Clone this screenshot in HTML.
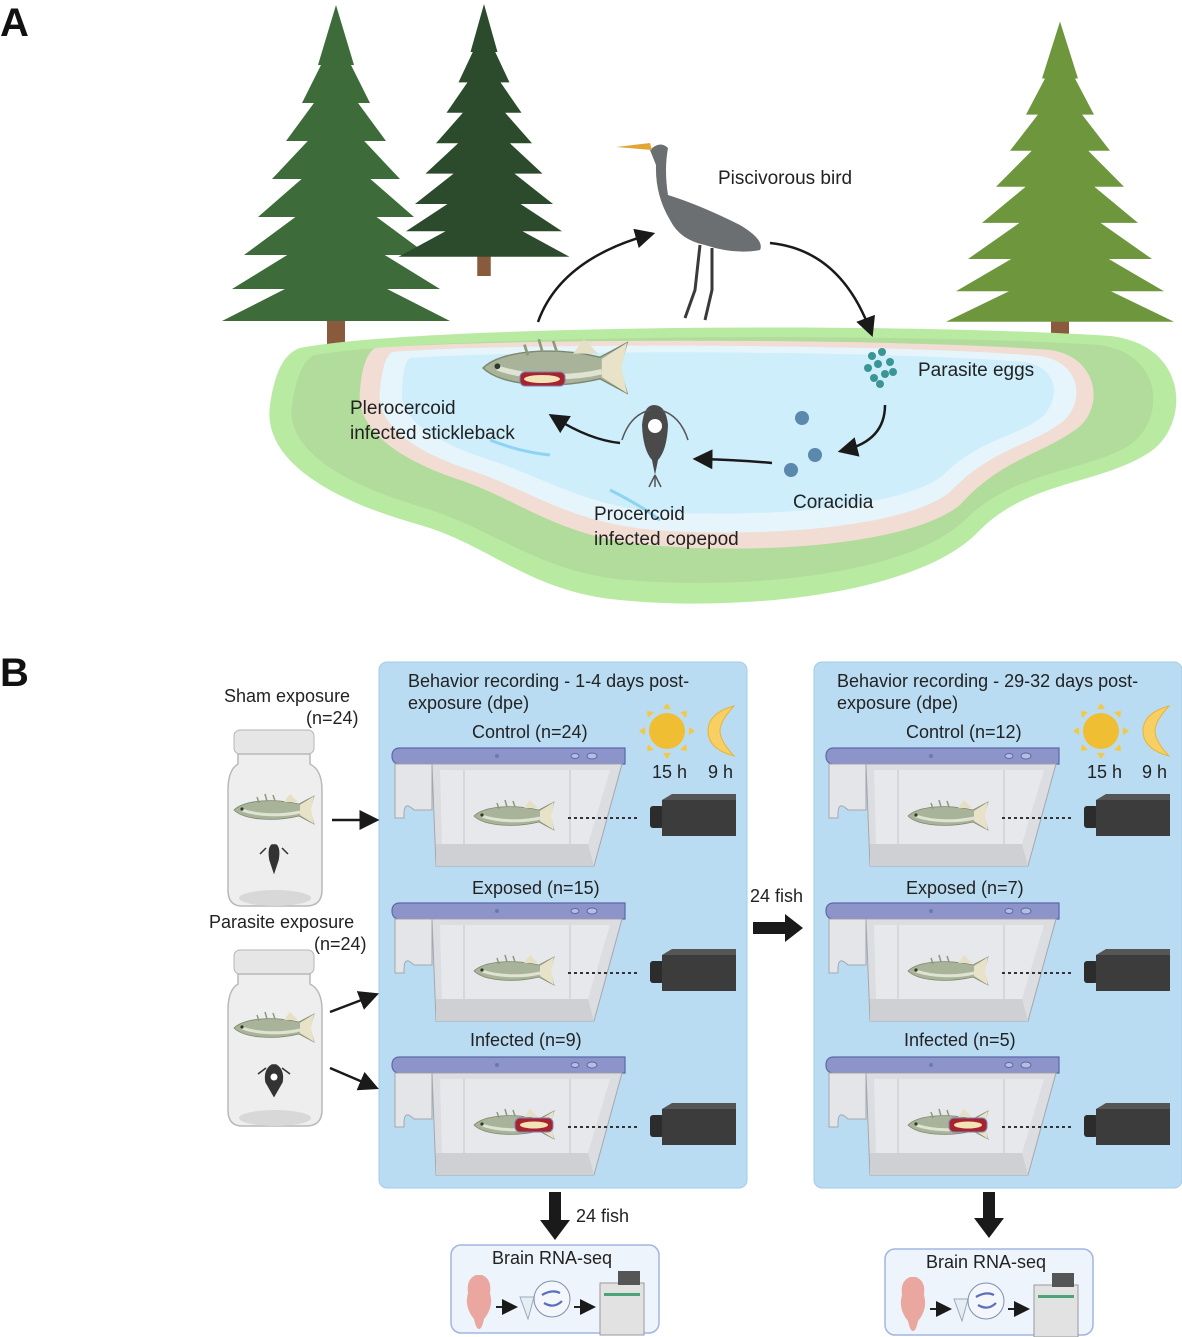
<!DOCTYPE html>
<html><head><meta charset="utf-8"><style>
html,body{margin:0;padding:0;background:#fff;}
svg{display:block;font-family:"Liberation Sans",Arial,sans-serif;}
</style></head><body>
<svg width="1182" height="1337" viewBox="0 0 1182 1337" xmlns="http://www.w3.org/2000/svg">
<defs>
<marker id="ah" markerWidth="8" markerHeight="8" refX="5" refY="4" orient="auto" markerUnits="strokeWidth"><path d="M0,0 L8,4 L0,8 z" fill="#1a1a1a"/></marker>
<g id="fish">
  <path d="M0,10 C10,0 40,-2 65,4 L80,-4 L76,10 L80,24 L65,16 C40,22 10,20 0,10 Z" fill="#a9b39a" stroke="#7d876d" stroke-width="0.8"/>
  <path d="M8,10 C25,16 50,16 66,12" fill="none" stroke="#dfe3d2" stroke-width="3"/>
  <path d="M25,3 l-2,-6 M33,1 l-2,-7 M41,1 l-2,-6" stroke="#8d9a7b" stroke-width="1.5"/>
  <path d="M50,2 l6,-8 l8,8 z" fill="#e5dfc6"/>
  <path d="M66,5 L80,-4 L77,10 L80,24 L66,15 z" fill="#e8e2c8"/>
  <circle cx="8" cy="9" r="1.6" fill="#2d3a24"/>
</g>
<g id="tree">
  <rect x="-9" y="-20" width="18" height="30" fill="#8a5a3c"/>
  <path d="M0,-330 L18,-270 L-18,-270Z M0,-300 L34,-232 L-34,-232Z M0,-262 L50,-194 L-50,-194Z M0,-224 L64,-156 L-64,-156Z M0,-186 L78,-118 L-78,-118Z M0,-148 L92,-80 L-92,-80Z M0,-110 L104,-46 L-104,-46Z M0,-72 L114,-14 L-114,-14Z"/>
</g>
<g id="tank">
  <path d="M8,0 L233,0 L233,16 L8,16 Q0,16 0,8 Q0,0 8,0 Z" fill="#8c94c9" stroke="#5d68a8" stroke-width="1.2"/>
  <path d="M3,16 L40,16 L40,62 L22,62 Q12,52 12,66 L12,70 L3,70 Z" fill="#e4e5e8" stroke="#a5a7ad" stroke-width="1"/>
  <path d="M40,16 L230,16 L202,118 L44,118 Z" fill="#dcdde1" stroke="#a5a7ad" stroke-width="1"/>
  <path d="M48,22 L218,22 L196,96 L50,96 Z" fill="#e7e8eb"/>
  <path d="M44,96 L196,96 L202,118 L44,118 Z" fill="#cfd0d4"/>
  <line x1="72" y1="22" x2="72" y2="96" stroke="#c5c6ca"/>
  <line x1="178" y1="22" x2="178" y2="96" stroke="#c5c6ca"/>
  <circle cx="105" cy="8" r="2" fill="#6d78b3"/><ellipse cx="183" cy="8" rx="4" ry="2.5" fill="#b7bde0" stroke="#5d68a8"/><ellipse cx="200" cy="8" rx="5" ry="3" fill="#b7bde0" stroke="#5d68a8"/>
  <use href="#fish" x="82" y="58"/>
  <line x1="176" y1="70" x2="248" y2="70" stroke="#333" stroke-width="2" stroke-dasharray="3,3"/>
  <rect x="258" y="58" width="14" height="22" rx="3" fill="#2c2c2c"/>
  <rect x="270" y="52" width="74" height="36" fill="#3c3c3c"/>
  <path d="M270,52 L280,46 L344,46 L344,52 Z" fill="#555"/>
</g>
<g id="jar">
  <rect x="6" y="0" width="80" height="24" rx="6" fill="#e6e6e6" stroke="#b5b5b5"/>
  <path d="M10,24 L82,24 L82,34 Q94,40 94,60 L94,160 Q94,176 78,176 L14,176 Q0,176 0,160 L0,60 Q0,40 10,34 Z" fill="#eeeeee" stroke="#b8b8b8" stroke-width="1.5"/>
  <ellipse cx="47" cy="168" rx="36" ry="8" fill="#d8d8d8"/>
</g>
<g id="sun">
  <circle cx="0" cy="0" r="18" fill="#f0be32"/>
  <g fill="#f5c842"><path d="M-4,-22 L0,-28 L4,-22Z"/><path d="M-4,22 L0,28 L4,22Z"/><path d="M-22,-4 L-28,0 L-22,4Z"/><path d="M22,-4 L28,0 L22,4Z"/><path d="M13,-19 L20,-20 L19,-13Z"/><path d="M-13,-19 L-20,-20 L-19,-13Z"/><path d="M13,19 L20,20 L19,13Z"/><path d="M-13,19 L-20,20 L-19,13Z"/></g>
</g>
<g id="moon"><path d="M12,-25 Q-14,-18 -14,0 Q-14,18 12,25 Q-2,10 -2,0 Q-2,-10 12,-25 Z" fill="#f7cf62" stroke="#e6b53a"/></g>
<g id="rna">
  <path d="M22,18 Q12,22 14,36 Q10,50 20,62 Q22,72 25,72 Q28,72 30,62 Q40,50 36,36 Q38,22 28,18 Z" fill="#eaa7a0"/>
  <line x1="42" y1="50" x2="58" y2="50" stroke="#222" stroke-width="2" marker-end="url(#ah)"/>
  <path d="M66,40 L80,40 L74,62 Z" fill="#e6eef4" stroke="#9ab"/>
  <circle cx="98" cy="42" r="18" fill="#f3f6fb" stroke="#7f8fb0"/>
  <path d="M88,38 Q98,32 106,36 M90,46 Q100,52 108,44" stroke="#5b6fbd" stroke-width="2.2" fill="none"/>
  <line x1="120" y1="50" x2="136" y2="50" stroke="#222" stroke-width="2" marker-end="url(#ah)"/>
  <rect x="146" y="26" width="44" height="52" fill="#e2e2e2" stroke="#999"/>
  <rect x="150" y="36" width="36" height="3" fill="#4ca37a"/>
  <rect x="164" y="14" width="22" height="14" fill="#555"/>
</g>
</defs>

<text x="0" y="36" font-size="40" font-weight="bold" fill="#111">A</text>
<text x="0" y="686" font-size="40" font-weight="bold" fill="#111">B</text>

<!-- trees -->
<use href="#tree" x="336" y="335" fill="#3e6b3a"/>
<use href="#tree" transform="translate(484,268) scale(0.75,0.8)" fill="#2c4a2c"/>
<use href="#tree" transform="translate(1060,335) scale(1,0.95)" fill="#6d963d"/>

<!-- pond -->
<path d="M300,348 C420,325 900,322 1110,336 C1190,345 1190,425 1150,452 C1100,485 1030,480 980,530 C920,595 740,612 620,600 C530,592 490,545 420,525 C330,500 262,460 270,405 C275,370 285,353 300,348 Z" fill="#b9eaa2"/>
<path d="M315,355 C430,335 900,332 1100,345 C1165,355 1165,420 1130,445 C1085,472 1020,470 970,515 C915,575 750,590 625,580 C540,572 495,530 425,508 C345,485 285,450 292,405 C296,375 305,358 315,355 Z" fill="#b1dc9b"/>
<path d="M375,348 C500,338 900,338 1050,350 C1100,357 1105,410 1075,430 C1040,455 1000,460 960,505 C910,545 760,555 650,545 C560,538 520,500 460,480 C400,460 355,430 360,390 C362,365 368,352 375,348 Z" fill="#f1ddd4"/>
<path d="M392,352 C500,343 890,343 1040,356 C1085,363 1085,408 1058,425 C1028,446 990,450 950,492 C905,528 760,538 655,530 C570,523 530,490 470,470 C415,452 375,425 380,390 C382,368 386,356 392,352 Z" fill="#e5f5fb"/>
<path d="M410,358 C520,350 880,350 1025,362 C1062,368 1060,405 1038,420 C1012,438 978,440 942,476 C900,508 765,518 660,512 C585,506 545,478 490,460 C435,442 400,420 402,392 C403,372 405,362 410,358 Z" fill="#cdeefa"/>
<path d="M490,440 Q520,452 550,455 M610,490 Q640,505 660,520" stroke="#8fd3f2" stroke-width="3" fill="none"/>

<!-- bird -->
<g fill="#6b6f72">
<path d="M650,150 Q660,140 668,148 Q664,170 668,195 Q700,205 740,225 Q765,240 760,250 Q735,255 705,245 Q680,240 670,220 Q655,195 656,165 Z"/>
<path d="M616,147 L650,143 L652,150 Z" fill="#e3a634"/>
<path d="M700,245 L695,290 L685,318 M712,248 L712,290 L705,320" stroke="#3a3a3a" stroke-width="3" fill="none"/>
</g>
<text x="718" y="184" font-size="19" fill="#222">Piscivorous bird</text>
<path d="M538,322 Q560,260 648,235" stroke="#1a1a1a" stroke-width="2.5" fill="none" marker-end="url(#ah)"/>
<path d="M770,243 Q840,250 870,330" stroke="#1a1a1a" stroke-width="2.5" fill="none" marker-end="url(#ah)"/>

<!-- pond contents -->
<use href="#fish" transform="translate(483,350) scale(1.8)"/>
<rect x="520" y="372" width="45" height="14" rx="5" fill="#a8242c" stroke="#7d82b8"/>
<ellipse cx="542" cy="379" rx="18" ry="4" fill="#f3e3b8"/>
<g fill="#3a9595">
<circle cx="872" cy="356" r="4"/><circle cx="882" cy="352" r="4"/><circle cx="878" cy="364" r="4"/><circle cx="868" cy="368" r="4"/><circle cx="890" cy="362" r="4"/><circle cx="885" cy="374" r="4"/><circle cx="874" cy="378" r="4"/><circle cx="893" cy="372" r="4"/><circle cx="880" cy="384" r="4"/>
</g>
<text x="918" y="376" font-size="19" fill="#222">Parasite eggs</text>
<path d="M885,405 Q885,440 845,450" stroke="#1a1a1a" stroke-width="2.5" fill="none" marker-end="url(#ah)"/>
<g fill="#5b88ad"><circle cx="802" cy="418" r="7"/><circle cx="815" cy="455" r="7"/><circle cx="791" cy="470" r="7"/></g>
<text x="793" y="508" font-size="19" fill="#222">Coracidia</text>
<path d="M772,463 Q740,460 700,459" stroke="#1a1a1a" stroke-width="2.5" fill="none" marker-end="url(#ah)"/>
<g>
<path d="M654,405 Q644,405 642,425 Q643,450 652,460 L655,475 L658,460 Q667,450 668,425 Q666,405 654,405 Z" fill="#4a4a4a"/>
<circle cx="655" cy="426" r="7" fill="#fff"/>
<path d="M650,410 Q630,415 622,440 M660,410 Q680,415 688,440 M655,475 l-6,12 M655,475 l6,12 M655,475 l0,12" stroke="#555" stroke-width="1.5" fill="none"/>
</g>
<path d="M620,443 Q590,440 555,418" stroke="#1a1a1a" stroke-width="2.5" fill="none" marker-end="url(#ah)"/>
<text x="350" y="414" font-size="19" fill="#222">Plerocercoid</text>
<text x="350" y="439" font-size="19" fill="#222">infected stickleback</text>
<text x="594" y="520" font-size="19" fill="#222">Procercoid</text>
<text x="594" y="545" font-size="19" fill="#222">infected copepod</text>

<!-- B panels -->
<rect x="379" y="662" width="368" height="526" rx="8" fill="#badcf2" stroke="#a3cbe8"/>
<rect x="814" y="662" width="368" height="526" rx="8" fill="#badcf2" stroke="#a3cbe8"/>
<rect x="451" y="1245" width="208" height="88" rx="10" fill="#eef4fb" stroke="#9fb6e0" stroke-width="1.5"/>
<use href="#rna" x="454" y="1257"/>
<rect x="885" y="1249" width="208" height="86" rx="10" fill="#eef4fb" stroke="#9fb6e0" stroke-width="1.5"/>
<use href="#rna" x="888" y="1259"/>
<g font-size="18" fill="#222">
<text x="408" y="687">Behavior recording - 1-4 days post-</text>
<text x="408" y="709">exposure (dpe)</text>
<text x="837" y="687">Behavior recording - 29-32 days post-</text>
<text x="837" y="709">exposure (dpe)</text>
<text x="472" y="738">Control (n=24)</text>
<text x="472" y="894">Exposed (n=15)</text>
<text x="470" y="1046">Infected (n=9)</text>
<text x="906" y="738">Control (n=12)</text>
<text x="906" y="894">Exposed (n=7)</text>
<text x="904" y="1046">Infected (n=5)</text>
<text x="652" y="778">15 h</text><text x="708" y="778">9 h</text>
<text x="1087" y="778">15 h</text><text x="1142" y="778">9 h</text>
<text x="224" y="702">Sham exposure</text>
<text x="306" y="724">(n=24)</text>
<text x="209" y="928">Parasite exposure</text>
<text x="314" y="950">(n=24)</text>
<text x="750" y="902">24 fish</text>
<text x="576" y="1222">24 fish</text>
<text x="492" y="1264">Brain RNA-seq</text>
<text x="926" y="1268">Brain RNA-seq</text>
</g>
<use href="#sun" x="667" y="731"/><use href="#moon" x="722" y="731"/>
<use href="#sun" x="1101" y="731"/><use href="#moon" x="1157" y="731"/>

<use href="#tank" x="392" y="748"/>
<use href="#tank" x="392" y="903"/>
<use href="#tank" x="392" y="1057"/>
<use href="#tank" x="826" y="748"/>
<use href="#tank" x="826" y="903"/>
<use href="#tank" x="826" y="1057"/>
<rect x="515" y="1118" width="38" height="14" rx="5" fill="#a8242c" stroke="#7d82b8"/>
<ellipse cx="534" cy="1125" rx="14" ry="3.5" fill="#f3e3b8"/>
<rect x="949" y="1118" width="38" height="14" rx="5" fill="#a8242c" stroke="#7d82b8"/>
<ellipse cx="968" cy="1125" rx="14" ry="3.5" fill="#f3e3b8"/>

<!-- jars -->
<use href="#jar" x="228" y="730"/>
<use href="#fish" x="234" y="800"/>
<path d="M272,845 Q268,848 270,860 L274,872 L278,860 Q280,848 276,845 Z M266,848 l-6,6 M282,848 l6,6" fill="#333" stroke="#333" stroke-width="1.5"/>
<use href="#jar" x="228" y="950"/>
<use href="#fish" x="234" y="1018"/>
<path d="M272,1065 Q264,1070 266,1082 L274,1096 L282,1082 Q284,1070 276,1065 Z M266,1068 l-8,6 M282,1068 l8,6" fill="#333" stroke="#333" stroke-width="1.5"/>
<circle cx="274" cy="1077" r="3.5" fill="#fff"/>

<!-- arrows -->
<g stroke="#1a1a1a" stroke-width="2.5" marker-end="url(#ah)">
<line x1="332" y1="820" x2="372" y2="820"/>
<line x1="330" y1="1012" x2="372" y2="996"/>
<line x1="330" y1="1068" x2="372" y2="1086"/>
</g>
<path d="M753,922 L785,922 L785,914 L803,928 L785,942 L785,934 L753,934 Z" fill="#1a1a1a"/>
<path d="M549,1192 L561,1192 L561,1220 L570,1220 L555,1240 L540,1220 L549,1220 Z" fill="#1a1a1a"/>
<path d="M983,1192 L995,1192 L995,1218 L1004,1218 L989,1238 L974,1218 L983,1218 Z" fill="#1a1a1a"/>
</svg>
</body></html>
